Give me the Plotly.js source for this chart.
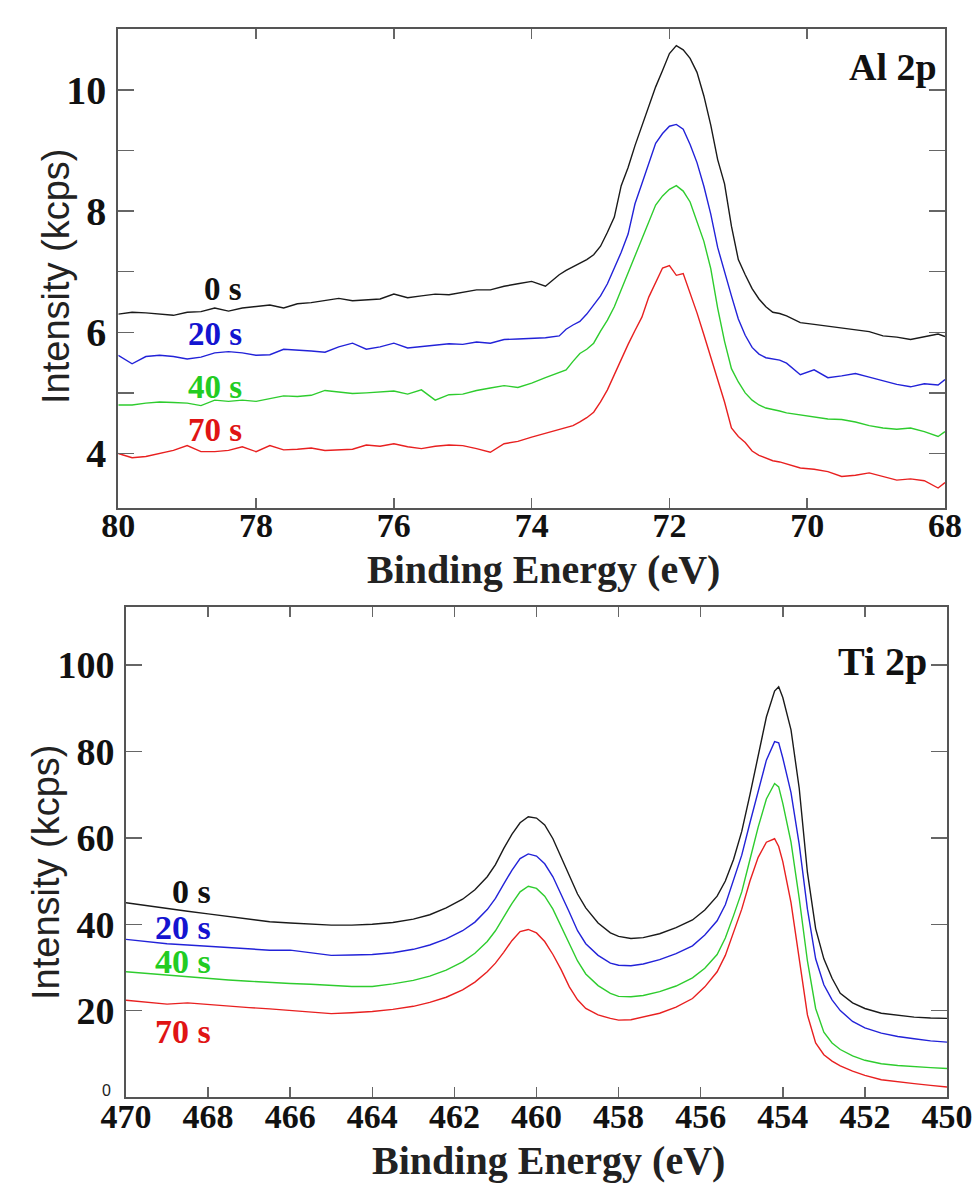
<!DOCTYPE html>
<html><head><meta charset="utf-8">
<script src="https://cdn.plot.ly/plotly-3.0.1.min.js"></script>
<style>html,body{margin:0;padding:0;background:#fff}#chart{width:976px;height:1183px}</style>
</head><body><div id="chart"></div>
<script>
// ---------- Al 2p panel data ----------
const AL_X = [80.0,79.8,79.6,79.4,79.2,79.0,78.8,78.6,78.4,78.2,78.0,77.8,77.6,77.4,77.2,77.0,76.8,76.6,76.4,76.2,76.0,75.8,75.6,75.4,75.2,75.0,74.8,74.6,74.4,74.2,74.0,73.8,73.6,
73.5,73.4,73.3,73.2,73.1,73.0,72.9,72.8,72.7,72.6,72.5,72.4,72.3,72.2,72.1,72.0,71.9,71.8,71.7,71.6,71.5,71.4,71.3,71.2,71.1,71.0,70.9,70.8,70.7,70.6,70.5,70.4,70.3,
70.1,69.9,69.7,69.5,69.3,69.1,68.9,68.7,68.5,68.3,68.1,68.0];
const AL_0S = [6.30,6.33,6.32,6.30,6.28,6.33,6.34,6.40,6.35,6.40,6.43,6.45,6.40,6.47,6.49,6.52,6.56,6.52,6.54,6.55,6.63,6.57,6.60,6.63,6.62,6.66,6.70,6.70,6.76,6.80,6.84,6.76,6.95,
7.02,7.08,7.14,7.20,7.28,7.42,7.65,7.90,8.42,8.72,9.08,9.40,9.75,10.05,10.32,10.60,10.73,10.66,10.52,10.29,9.90,9.42,8.85,8.45,7.75,7.20,6.95,6.72,6.55,6.42,6.33,6.31,6.27,
6.16,6.13,6.10,6.06,6.03,6.01,5.94,5.92,5.88,5.93,5.97,5.93];
const AL_20S = [5.62,5.48,5.60,5.62,5.60,5.56,5.59,5.66,5.68,5.66,5.62,5.63,5.72,5.71,5.69,5.67,5.76,5.82,5.72,5.76,5.82,5.74,5.76,5.78,5.81,5.80,5.84,5.82,5.88,5.89,5.90,5.91,5.94,
6.05,6.12,6.18,6.30,6.46,6.60,6.80,7.05,7.32,7.62,8.12,8.45,8.80,9.12,9.28,9.40,9.43,9.35,9.10,8.80,8.41,7.95,7.40,6.98,6.60,6.22,5.95,5.75,5.64,5.58,5.56,5.54,5.49,
5.30,5.38,5.25,5.28,5.32,5.26,5.20,5.14,5.10,5.15,5.13,5.22];
const AL_40S = [4.80,4.80,4.83,4.85,4.84,4.83,4.79,4.88,4.86,4.88,4.86,4.90,4.95,4.94,4.96,5.04,5.02,4.99,5.00,5.02,5.03,4.98,5.05,4.88,4.97,4.98,5.04,5.08,5.12,5.09,5.16,5.25,5.33,
5.38,5.52,5.65,5.72,5.82,6.02,6.20,6.42,6.70,6.98,7.28,7.56,7.82,8.10,8.25,8.36,8.42,8.33,8.15,7.82,7.50,7.05,6.40,5.85,5.40,5.18,5.00,4.88,4.80,4.75,4.73,4.70,4.67,
4.64,4.61,4.57,4.56,4.52,4.46,4.42,4.40,4.42,4.36,4.28,4.36];
const AL_70S = [4.00,3.93,3.95,4.00,4.05,4.13,4.03,4.03,4.05,4.11,4.03,4.13,4.06,4.07,4.09,4.05,4.06,4.07,4.14,4.12,4.16,4.11,4.08,4.12,4.14,4.13,4.08,4.02,4.16,4.20,4.27,4.33,4.40,
4.43,4.46,4.52,4.59,4.68,4.85,5.05,5.30,5.56,5.80,6.03,6.25,6.58,6.82,7.06,7.10,6.94,6.97,6.65,6.32,5.96,5.58,5.20,4.85,4.42,4.28,4.18,4.04,3.97,3.92,3.88,3.86,3.83,
3.76,3.74,3.70,3.62,3.64,3.68,3.62,3.56,3.58,3.55,3.43,3.52];
const AL_XTICKS = [80,78,76,74,72,70,68];
const AL_YTICKS = [4,6,8,10];
const AL_YMINOR = [5,7,9];

// ---------- Ti 2p panel data ----------
const TI_X = [470,469.5,469,468.5,468,467.5,467,466.5,466,465.5,465,464.5,464,463.5,463,462.6,462.2,461.8,461.5,461.2,
461.0,460.8,460.6,460.4,460.2,460.0,459.8,459.6,459.4,459.2,459.0,458.8,458.5,458.2,458.0,457.7,457.4,457.0,456.6,456.2,455.9,455.6,
455.4,455.2,455.0,454.8,454.6,454.4,454.2,454.1,454.0,453.8,453.6,453.4,453.2,453.0,452.8,452.6,452.3,452.0,451.6,451.2,450.8,450.4,450.0];
const TI_0S = [45.0,44.3,43.7,43.0,42.4,41.8,41.1,40.6,40.3,40.0,39.8,39.8,40.0,40.4,41.2,42.2,43.8,45.8,48.0,51.0,
53.8,57.5,60.8,63.5,64.9,64.6,63.0,59.8,55.5,51.0,47.0,43.8,40.3,38.0,37.2,36.7,36.9,37.8,39.2,41.0,43.3,46.5,
50.0,55.0,61.5,70.0,79.0,88.0,94.0,95.0,92.5,85.0,71.5,52.0,39.0,32.0,27.5,24.0,21.8,20.5,19.4,18.9,18.5,18.3,18.2];
const TI_20S = [36.5,36.0,35.5,35.2,34.9,34.5,34.3,34.0,34.0,33.4,32.8,32.9,33.0,33.4,34.2,35.2,36.6,38.5,40.5,43.4,
46.0,49.3,52.5,55.2,56.3,55.8,54.0,51.0,47.0,42.8,38.5,35.5,32.8,31.0,30.5,30.4,30.8,31.8,33.2,35.0,37.5,40.8,
44.5,50.0,56.0,63.5,71.0,78.0,82.3,82.0,78.5,70.5,58.5,43.5,32.0,26.0,22.5,20.0,17.5,16.0,14.8,14.0,13.5,13.0,12.7];
const TI_40S = [29.0,28.6,28.2,27.8,27.5,27.1,26.8,26.5,26.3,26.1,25.9,25.6,25.6,26.2,27.0,28.0,29.4,31.3,33.3,36.0,
38.5,41.6,44.8,47.5,48.8,48.3,46.5,43.5,39.5,35.5,31.5,28.5,25.8,24.0,23.3,23.2,23.5,24.4,25.7,27.6,29.8,33.0,
36.8,42.0,47.5,55.0,62.5,69.0,72.6,71.8,68.0,59.0,46.0,31.5,20.5,15.0,12.5,11.0,9.5,8.5,7.7,7.3,7.0,6.8,6.6];
const TI_70S = [22.4,21.9,21.5,21.8,21.4,21.0,20.7,20.4,20.0,19.7,19.3,19.5,19.8,20.3,21.0,21.9,23.1,24.8,26.6,29.0,
31.0,33.5,36.2,38.3,38.8,38.0,36.0,33.0,29.5,25.5,22.5,20.5,19.0,18.2,17.8,17.9,18.5,19.4,20.8,22.8,25.5,29.0,
32.8,38.0,43.5,50.0,55.5,59.0,59.8,58.0,54.5,45.0,32.0,19.0,12.5,9.8,8.3,7.2,6.0,5.0,4.0,3.5,3.1,2.7,2.3];
const TI_XTICKS = [470,468,466,464,462,460,458,456,454,452,450];
const TI_YTICKS = [20,40,60,80,100];

const SERIES_NAMES = ['0 s','20 s','40 s','70 s'];
const COLORS = ['#1a1a1a','#2222d8','#2ecc2e','#e82020'];
const LABEL_COLORS = ['#111111','#1414d0','#22cc22','#e01414'];

// ---------- build ----------
const W = 976, H = 1183;
const px = v => v / W;
const py = v => 1 - v / H;

const alSeries = [AL_0S, AL_20S, AL_40S, AL_70S];
const tiSeries = [TI_0S, TI_20S, TI_40S, TI_70S];
const traces = [];
alSeries.forEach((ys, i) => traces.push({x: AL_X, y: ys, xaxis: 'x', yaxis: 'y', type: 'scatter', mode: 'lines',
  name: SERIES_NAMES[i], line: {color: COLORS[i], width: 1.4}, hoverinfo: 'skip'}));
tiSeries.forEach((ys, i) => traces.push({x: TI_X, y: ys, xaxis: 'x2', yaxis: 'y2', type: 'scatter', mode: 'lines',
  name: SERIES_NAMES[i], line: {color: COLORS[i], width: 1.4}, hoverinfo: 'skip'}));

const serif = 'Liberation Serif, Times New Roman, serif';
const sans = 'Liberation Sans, Arial, sans-serif';
const axisCommon = {showline: true, linecolor: '#555', linewidth: 2, mirror: 'ticks', showgrid: false, zeroline: false,
  ticks: 'inside', tickcolor: '#666', tickwidth: 1.5, automargin: false, fixedrange: true};

const annotations = [];
function ann(text, x, y, opts) {
  annotations.push(Object.assign({text: text, x: px(x), y: py(y), xref: 'paper', yref: 'paper', showarrow: false,
    xanchor: 'center', yanchor: 'middle', borderpad: 0}, opts));
}
// axis titles
ann('Intensity (kcps)', 56, 276, {textangle: -90, font: {family: sans, size: 38, color: '#222'}});
ann('Intensity (kcps)', 46, 872, {textangle: -90, font: {family: sans, size: 38, color: '#222'}});
ann('Binding Energy (eV)', 543, 569, {font: {family: serif, size: 40, weight: 'bold', color: '#222'}});
ann('Binding Energy (eV)', 548, 1160, {font: {family: serif, size: 40, weight: 'bold', color: '#222'}});
// panel labels
ann('Al 2p', 938, 67, {xanchor: 'right', font: {family: serif, size: 38, weight: 'bold', color: '#111'}});
ann('Ti 2p', 928, 661, {xanchor: 'right', font: {family: serif, size: 40, weight: 'bold', color: '#111'}});
// series labels
const alLabelY = [289, 334, 387, 430];
const tiLabelY = [891, 927, 961, 1031];
SERIES_NAMES.forEach((s, i) => {
  ann(s, 243, alLabelY[i], {xanchor: 'right', font: {family: serif, size: 33, weight: 'bold', color: LABEL_COLORS[i]}});
  ann(s, 212, tiLabelY[i], {xanchor: 'right', font: {family: serif, size: 34, weight: 'bold', color: LABEL_COLORS[i]}});
});
// small zero label of the lower panel
ann('0', 106, 1090, {font: {family: sans, size: 16, color: '#222'}});

const layout = {
  width: W, height: H, margin: {l: 0, r: 0, t: 0, b: 0}, paper_bgcolor: '#fff', plot_bgcolor: '#fff',
  showlegend: false,
  xaxis: Object.assign({}, axisCommon, {domain: [px(118.3), px(945)], range: [80, 68], anchor: 'y',
    tickvals: AL_XTICKS, ticklen: 10, ticklabelstandoff: -14,
    tickfont: {family: serif, size: 34, weight: 'bold', color: '#111'}}),
  yaxis: Object.assign({}, axisCommon, {domain: [py(508), py(29.3)], range: [3.1, 11.0], anchor: 'x',
    tickvals: AL_YTICKS, ticklen: 16, ticklabelstandoff: 2,
    minor: {tickvals: AL_YMINOR, ticks: 'inside', ticklen: 16, tickcolor: '#666', tickwidth: 1.5},
    tickfont: {family: serif, size: 40, weight: 'bold', color: '#111'}}),
  xaxis2: Object.assign({}, axisCommon, {domain: [px(126), px(947)], range: [470, 450], anchor: 'y2',
    tickvals: TI_XTICKS, ticklen: 10, ticklabelstandoff: -12,
    tickfont: {family: serif, size: 34, weight: 'bold', color: '#111'}}),
  yaxis2: Object.assign({}, axisCommon, {domain: [py(1097), py(607.3)], range: [0, 113.4], anchor: 'x2',
    tickvals: TI_YTICKS, ticklen: 16, ticklabelstandoff: 2,
    tickfont: {family: serif, size: 38, weight: 'bold', color: '#111'}}),
  annotations: annotations
};

Plotly.newPlot('chart', traces, layout, {staticPlot: true, displayModeBar: false});
</script>
</body></html>
